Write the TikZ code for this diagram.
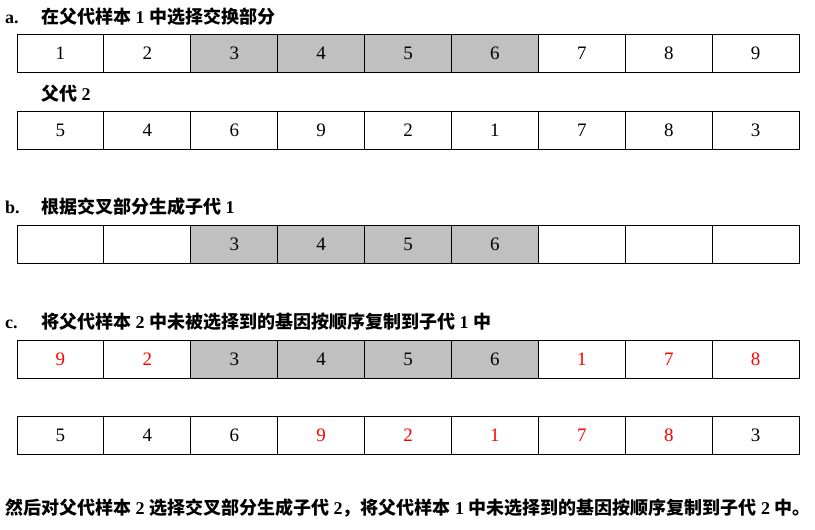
\documentclass[tikz,border=0pt]{standalone}
\usepackage{fontspec}
\setmainfont{Liberation Serif}
\newfontfamily\cjk{Noto Sans CJK SC}
\usepackage{xcolor}
\definecolor{selgray}{HTML}{C0C0C0}
\newcommand{\zh}[1]{{\cjk\bfseries #1}}

\begin{document}
\begin{tikzpicture}[x=1pt, y=-1pt,
  cell/.style={draw, line width=0.9pt, minimum width=86.9pt, minimum height=38pt,
               inner sep=0pt, font=\fontsize{19}{19}\selectfont},
  sel/.style={cell, fill=selgray},
  new/.style={cell, text=red},
  hd/.style={anchor=base west, inner sep=0pt, font=\fontsize{18}{20}\selectfont\bfseries},
]
  \useasboundingbox (0,0) rectangle (815,530);

  % a. Parent 1 and parent 2
  \node[hd] (la) at (5,23.5) {a.};
  \node[hd] (ta) at (41,23.5) {\zh{在父代样本} 1 \zh{中选择交换部分}};
  \foreach \v/\s [count=\i] in {1/cell,2/cell,3/sel,4/sel,5/sel,6/sel,7/cell,8/cell,9/cell}
    \node[\s] (pa-\i) at ({17+86.9*(\i-0.5)},53) {\v};
  \node[hd] (tp) at (41,100) {\zh{父代} 2};
  \foreach \v [count=\i] in {5,4,6,9,2,1,7,8,3}
    \node[cell] (pb-\i) at ({17+86.9*(\i-0.5)},130) {\v};

  % b. Child from crossover part
  \node[hd] (lb) at (5,213.5) {b.};
  \node[hd] (tb) at (41,213.5) {\zh{根据交叉部分生成子代} 1};
  \foreach \v/\s [count=\i] in {/cell,/cell,3/sel,4/sel,5/sel,6/sel,/cell,/cell,/cell}
    \node[\s] (ca-\i) at ({17+86.9*(\i-0.5)},244.5) {\v};

  % c. Fill from parent 2
  \node[hd] (lc) at (5,328.5) {c.};
  \node[hd] (tc) at (41,328.5) {\zh{将父代样本} 2 \zh{中未被选择到的基因按顺序复制到子代} 1 \zh{中}};
  \foreach \v/\s [count=\i] in {9/new,2/new,3/sel,4/sel,5/sel,6/sel,1/new,7/new,8/new}
    \node[\s] (cb-\i) at ({17+86.9*(\i-0.5)},359.5) {\v};
  \foreach \v/\s [count=\i] in {5/cell,4/cell,6/cell,9/new,2/new,1/new,7/new,8/new,3/cell}
    \node[\s] (cc-\i) at ({17+86.9*(\i-0.5)},435.5) {\v};

  \node[hd] (tn) at (5,514.5) {\zh{然后对父代样本} 2 \zh{选择交叉部分生成子代} 2\zh{，将父代样本} 1 \zh{中未选择到的基因按顺序复制到子代} 2 \zh{中。}};
\end{tikzpicture}
\end{document}
